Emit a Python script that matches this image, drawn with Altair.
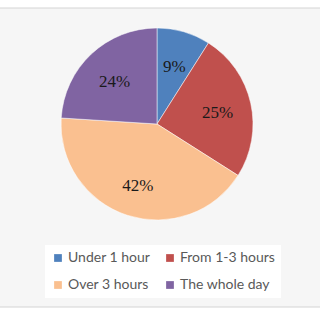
import altair as alt
import pandas as pd

categories = ["Under 1 hour", "From 1-3 hours", "Over 3 hours", "The whole day"]
values = [9, 25, 42, 24]
labels = ["9%", "25%", "42%", "24%"]
colors = ["#4f81bd", "#c0504d", "#fac090", "#8064a2"]

# legend fills column-major, so list entries column by column to get row order
legend_order = [categories[0], categories[2], categories[1], categories[3]]
legend_colors = [colors[0], colors[2], colors[1], colors[3]]

df = pd.DataFrame({"category": categories, "value": values, "label": labels,
                   "order": list(range(len(categories)))})

color = alt.Color("category:N",
                  scale=alt.Scale(domain=legend_order, range=legend_colors),
                  sort=legend_order,
                  legend=alt.Legend(title=None, orient="none", legendX=45, legendY=245,
                                    columns=2, columnPadding=12, rowPadding=13,
                                    symbolType="square", symbolSize=60, symbolStrokeWidth=0,
                                    labelFont="Lato", labelFontSize=14, labelColor="#595959",
                                    fillColor="white", padding=6, labelOffset=3))

frame = alt.Chart(pd.DataFrame({"a": [0]})).mark_rect(
    fill="#f6f6f6", stroke="#d4d4d4", strokeWidth=1
).encode(x=alt.value(-2), x2=alt.value(322), y=alt.value(8), y2=alt.value(307))

base = alt.Chart(df).encode(
    theta=alt.Theta("value:Q", stack=True),
    order=alt.Order("order:Q"),
)

pie = base.mark_arc(outerRadius=96, stroke="white", strokeWidth=0.5).encode(
    color=color, x=alt.value(157), y=alt.value(124)
)

text = base.mark_text(radius=62, dy=3, font="Liberation Serif, Times New Roman, serif",
                      fontSize=17, color="#1a1a1a").encode(
    text="label:N", x=alt.value(157), y=alt.value(124)
)

chart = alt.layer(frame, pie, text).properties(
    width=320, height=320, padding=0, background="white",
    autosize=alt.AutoSizeParams(type="none")
).configure_view(stroke=None)

chart.save("out.html", embed_options={"renderer": "svg", "actions": False})
